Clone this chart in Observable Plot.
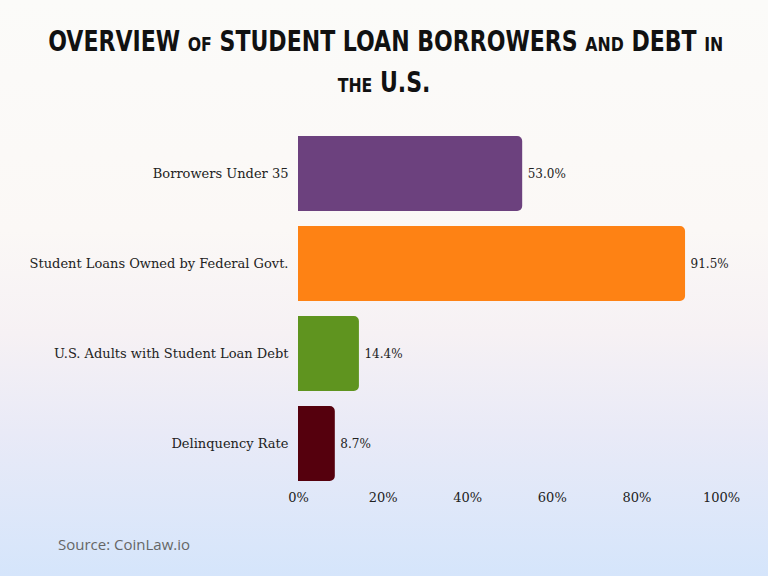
<!DOCTYPE html>
<html>
<head>
<meta charset="utf-8">
<script src="https://cdn.jsdelivr.net/npm/d3@7"></script>
<script src="https://cdn.jsdelivr.net/npm/@observablehq/plot@0.6"></script>
<style>
  html, body { margin: 0; padding: 0; }
  body {
    width: 768px; height: 576px; overflow: hidden; position: relative;
    background: linear-gradient(to bottom, #fbfbf9 0%, #fbf8f6 40%, #f6f1f4 58%, #e9eaf7 75%, #d5e5fb 100%);
  }
  .tline {
    position: absolute; left: 0; width: 768px; text-align: center; white-space: nowrap;
    font-family: "DejaVu Sans", sans-serif; font-stretch: condensed;
    font-weight: bold; font-size: 28px; line-height: 32px; color: #111;
    font-variant: small-caps;
  }
  .tline span { display: inline-block; transform-origin: center center; }
  #t1 { top: 26px; }
  #t2 { top: 67px; }
  #chart { position: absolute; top: 100px; left: 0; }
  #source {
    position: absolute; top: 534px; left: 58px;
    font-family: "Open Sans", sans-serif; font-size: 15px; color: #666;
  }
</style>
</head>
<body>
<div class="tline" id="t1"><span>OVERVIEW of STUDENT LOAN BORROWERS and DEBT in</span></div>
<div class="tline" id="t2"><span>the U.S.</span></div>
<div id="chart"></div>
<div id="source">Source: CoinLaw.io</div>
<script>
const categories = ["Borrowers Under 35", "Student Loans Owned by Federal Govt.", "U.S. Adults with Student Loan Debt", "Delinquency Rate"];
const values = [53.0, 91.5, 14.4, 8.7];
const colors = ["#6c417e", "#fe8214", "#5f941f", "#55000d"];
const xTicks = [0, 20, 40, 60, 80, 100];

const data = categories.map((c, i) => ({category: c, value: values[i], color: colors[i]}));

// fit title line 1 to the reference width
const s1 = document.querySelector("#t1 span");
const sc = 675 / s1.getBoundingClientRect().width;
document.querySelectorAll(".tline span").forEach(s => s.style.transform = `scaleX(${sc})`);

const chart = Plot.plot({
  width: 768,
  height: 420,
  marginLeft: 298,
  marginRight: 47,
  marginTop: 28,
  marginBottom: 30,
  style: {background: "transparent", fontFamily: "DejaVu Serif, serif", fontSize: "13px", color: "#222"},
  x: {domain: [0, 100], ticks: xTicks, tickFormat: d => d + "%", label: null},
  y: {domain: categories, paddingInner: 0.162, paddingOuter: 0.081, label: null},
  marks: [
    Plot.barX(data, {x: "value", y: "category", fill: "color", rx2: 5}),
    Plot.text(data, {x: "value", y: "category", text: d => d.value.toFixed(1) + "%", dx: 5, textAnchor: "start", fontSize: 12, fill: "#222"}),
    Plot.axisY({tickSize: 0, tickPadding: 10, fontSize: 13, label: null}),
    Plot.axisX({ticks: xTicks, tickFormat: d => d + "%", tickSize: 0, tickPadding: 2, fontSize: 13, label: null})
  ]
});
document.getElementById("chart").appendChild(chart);
</script>
</body>
</html>
